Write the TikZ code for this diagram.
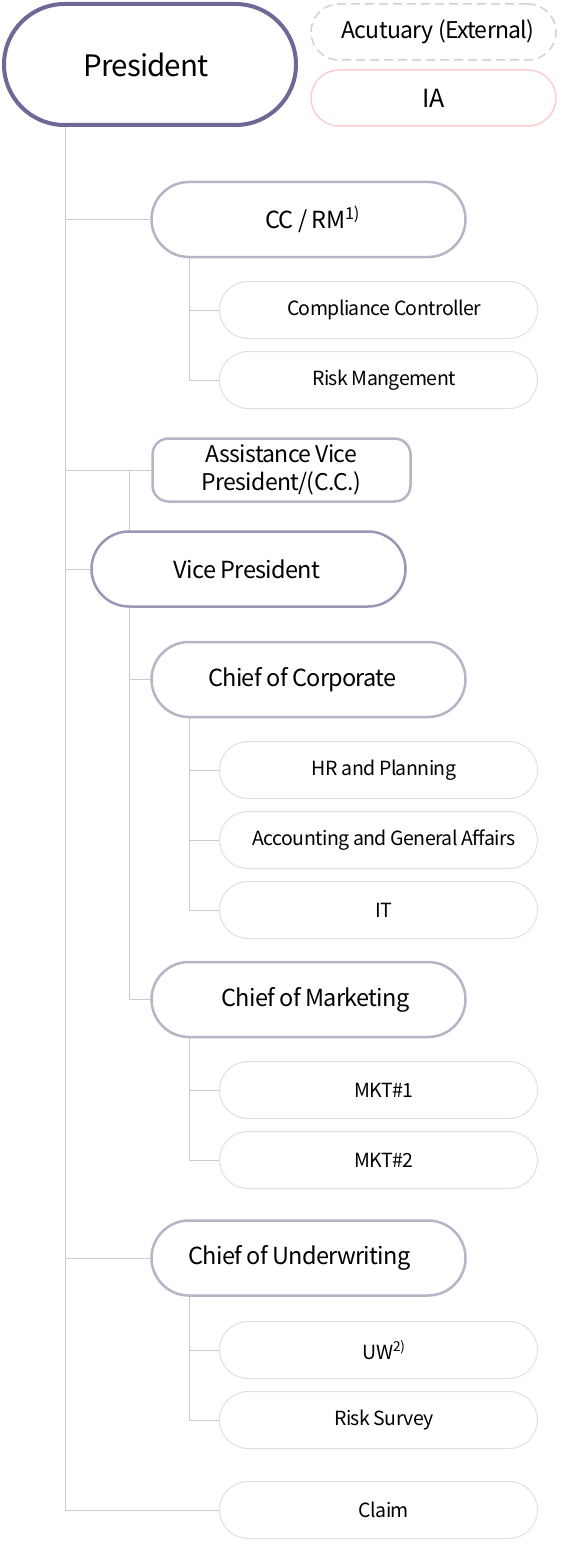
\documentclass[tikz,border=0pt]{standalone}
\usepackage{fontspec}
\setmainfont[LetterSpace=-3]{Noto Sans CJK KR}
\usepackage{xcolor}
\usetikzlibrary{backgrounds, positioning}
\definecolor{presline}{HTML}{6E6896}
\definecolor{vpline}{HTML}{9A96B3}
\definecolor{chiefline}{HTML}{B6B4C6}
\definecolor{actline}{HTML}{D2D0E4}
\definecolor{ialine}{HTML}{F9CFCF}
\definecolor{subline}{HTML}{E0E0E0}
\definecolor{connline}{HTML}{CCCCCC}
\tikzset{
    pill/.style={draw,fill=white,rounded corners=#1,inner sep=0pt,align=center},
    conn/.style={draw=connline,line width=1pt}
}

\begin{document}
\begin{tikzpicture}[x=1pt,y=-1pt]
\tikzset{
    presbox/.style={pill=60.5pt,draw=presline,line width=4pt,minimum width=292pt,minimum height=121pt,font=\fontsize{29.5}{34}\selectfont},
    sidebox/.style={pill=28pt,line width=1.5pt,minimum width=245pt,minimum height=56pt,font=\fontsize{23}{27}\selectfont},
    chiefbox/.style={pill=37.5pt,draw=chiefline,line width=2.5pt,minimum width=314pt,minimum height=75pt,font=\fontsize{23.5}{27}\selectfont},
    subbox/.style={pill=28.5pt,draw=subline,line width=1pt,minimum width=318pt,minimum height=57pt,font=\fontsize{19.5}{23}\selectfont,
        execute at begin node=\hspace*{11pt}}
}
  \useasboundingbox (0,0) rectangle (560,1541);
  \coordinate (trunk) at (65,0);
  \coordinate (vptrunk) at (129,0);
  \coordinate (subtrunk) at (189,0);

  % top row
  \node[presbox] (pres) at (150,64.5) {\hspace*{-8pt}President};
  \node[sidebox,draw=actline,dash pattern=on 9pt off 5pt] (act) at (433.5,32) {\hspace*{9pt}Acutuary (External)};
  \node[sidebox,draw=ialine,font=\fontsize{25}{29}\selectfont] (ia) at (433.5,98) {IA};

  % staff
  \node[chiefbox] (ccrm) at (308.5,219.5) {\hspace*{8pt}CC / RM\textsuperscript{1)}};
  \node[subbox] (comp) at (378.5,310) {Compliance Controller};
  \node[subbox] (riskm) at (378.5,380) {Risk Mangement};
  \node[chiefbox,minimum width=258pt,minimum height=63pt,rounded corners=16pt,font=\fontsize{23}{28}\selectfont] (avp) at (281.5,470) {Assistance Vice\\President/(C.C.)};
  \node[chiefbox,draw=vpline] (vp) at (248.5,569) {\hspace*{-3pt}Vice President};

  % under the vice president
  \node[chiefbox] (corp) at (308.5,679.5) {\hspace*{-12pt}Chief of Corporate};
  \node[subbox] (hr) at (378.5,770) {HR and Planning};
  \node[subbox] (acc) at (378.5,840) {Accounting and General Affairs};
  \node[subbox] (it) at (378.5,910) {IT};
  \node[chiefbox] (mkt) at (308.5,999.5) {\hspace*{14pt}Chief of Marketing};
  \node[subbox] (mktone) at (378.5,1090) {MKT\#1};
  \node[subbox] (mkttwo) at (378.5,1160) {MKT\#2};

  % underwriting and claim
  \node[chiefbox] (uw) at (308.5,1258) {\hspace*{-18pt}Chief of Underwriting};
  \node[subbox] (uwsub) at (378.5,1350) {UW\textsuperscript{2)}};
  \node[subbox] (rsur) at (378.5,1420) {Risk Survey};
  \node[subbox] (claim) at (378.5,1510) {Claim};

  \begin{scope}[on background layer]
  \draw[conn] (pres.south -| trunk) |- (claim.west);
  \foreach \n in {ccrm,avp,vp,uw}
    \draw[conn] (trunk |- \n.west) -- (\n.west);
  \draw[conn] (vptrunk |- avp.west) |- (mkt.west);
  \draw[conn] (vptrunk |- corp.west) -- (corp.west);
  \draw[conn] (subtrunk |- ccrm.south) |- (riskm.west);
  \draw[conn] (subtrunk |- comp.west) -- (comp.west);
  \draw[conn] (subtrunk |- corp.south) |- (it.west);
  \draw[conn] (subtrunk |- hr.west) -- (hr.west);
  \draw[conn] (subtrunk |- acc.west) -- (acc.west);
  \draw[conn] (subtrunk |- mkt.south) |- (mkttwo.west);
  \draw[conn] (subtrunk |- mktone.west) -- (mktone.west);
  \draw[conn] (subtrunk |- uw.south) |- (rsur.west);
  \draw[conn] (subtrunk |- uwsub.west) -- (uwsub.west);
  \end{scope}
\end{tikzpicture}
\end{document}
